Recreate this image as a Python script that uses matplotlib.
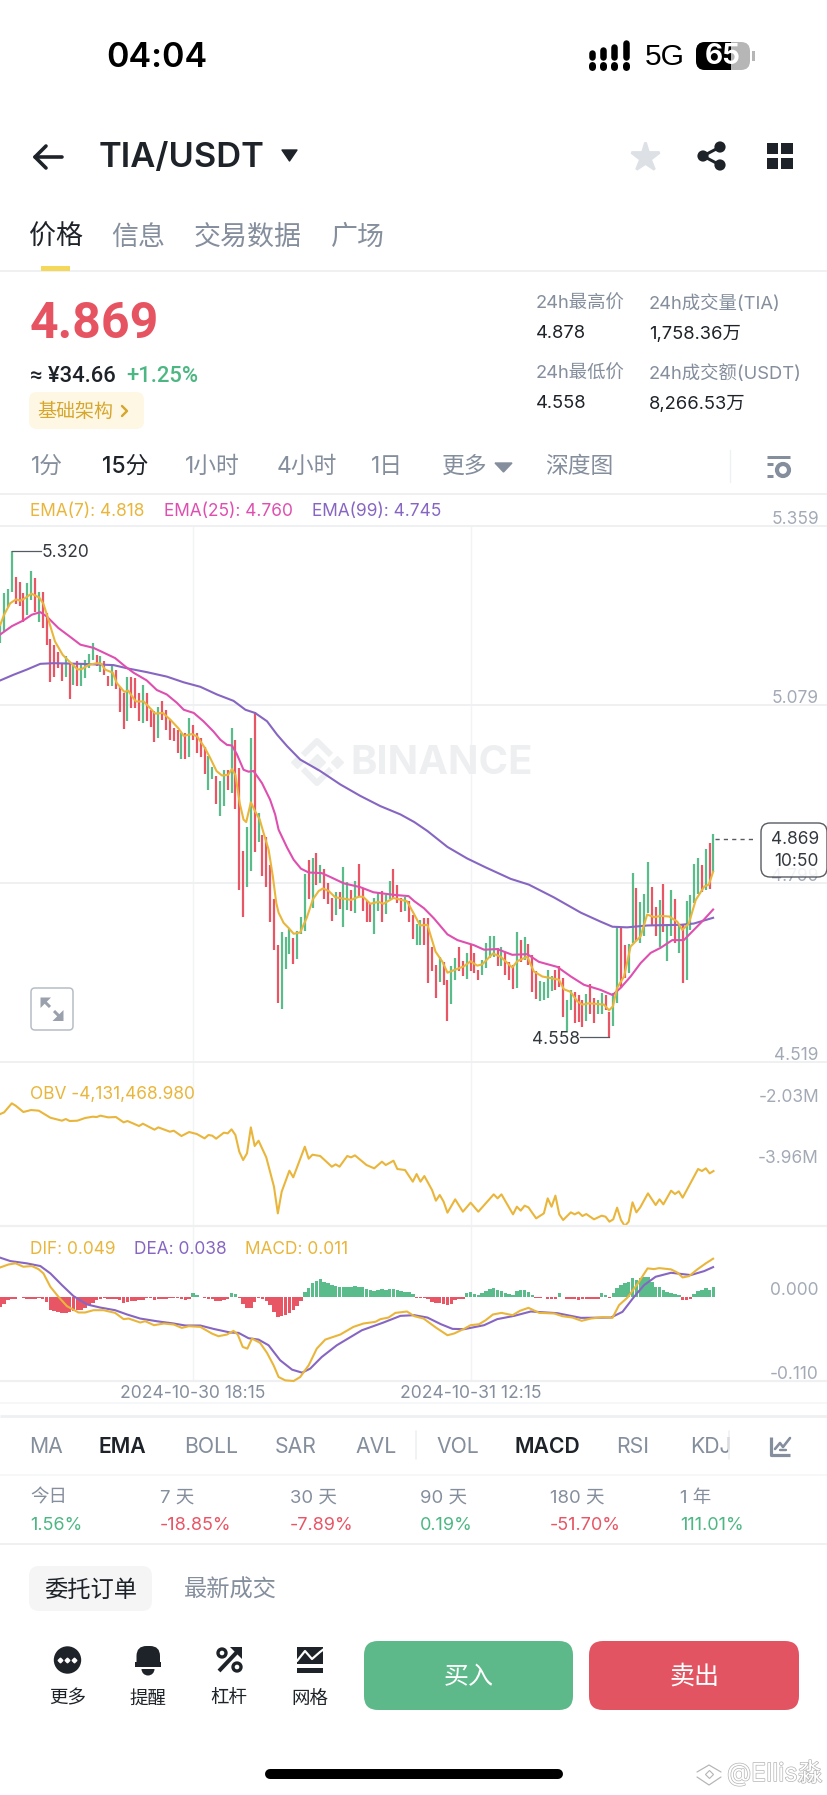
import matplotlib
matplotlib.use('Agg')
import matplotlib.pyplot as plt
import matplotlib.patheffects as pe
from matplotlib.patches import FancyBboxPatch, Rectangle, Polygon, Circle, Wedge

W, H = 828, 1795
GREEN = '#5BBC8B'
RED = '#E85565'
YEL = '#E9B63B'
PINK = '#DE4FB0'
PURP = '#8666C2'
DARK = '#1E2329'
GRAY = '#848E9C'
LGRAY = '#A3AAB6'
SEP = '#EEF0F2'
SANS = ['Inter', 'Noto Sans CJK SC', 'DejaVu Sans']
CJK = ['Noto Sans CJK SC', 'DejaVu Sans']

# candles, one per 15 min
highs = [5.204, 5.254, 5.260, 5.320, 5.279, 5.271, 5.254, 5.269, 5.288, 5.277,
         5.256, 5.255, 5.223, 5.182, 5.172, 5.161, 5.144, 5.155, 5.146, 5.144,
         5.147, 5.142, 5.149, 5.159, 5.176, 5.157, 5.155, 5.148, 5.124, 5.139,
         5.133, 5.107, 5.097, 5.122, 5.122, 5.121, 5.097, 5.110, 5.097, 5.071,
         5.069, 5.075, 5.085, 5.071, 5.055, 5.042, 5.040, 5.035, 5.035, 5.058,
         5.047, 5.035, 5.027, 5.013, 4.998, 4.982, 4.967, 4.959, 4.976, 4.977,
         5.043, 5.023, 4.980, 4.850, 4.887, 5.027, 5.067, 4.910, 4.875, 4.872,
         4.827, 4.774, 4.702, 4.722, 4.715, 4.728, 4.713, 4.725, 4.746, 4.814,
         4.835, 4.839, 4.846, 4.827, 4.821, 4.800, 4.776, 4.786, 4.785, 4.825,
         4.801, 4.789, 4.803, 4.829, 4.790, 4.771, 4.768, 4.776, 4.784, 4.787,
         4.781, 4.802, 4.822, 4.796, 4.776, 4.777, 4.771, 4.750, 4.736, 4.742,
         4.744, 4.744, 4.700, 4.671, 4.684, 4.676, 4.648, 4.670, 4.682, 4.700,
         4.677, 4.690, 4.703, 4.690, 4.663, 4.679, 4.705, 4.717, 4.717, 4.697,
         4.699, 4.692, 4.676, 4.671, 4.722, 4.710, 4.715, 4.704, 4.687, 4.661,
         4.646, 4.645, 4.663, 4.653, 4.663, 4.669, 4.650, 4.616, 4.632, 4.629,
         4.624, 4.616, 4.626, 4.642, 4.619, 4.616, 4.627, 4.624, 4.598, 4.627,
         4.731, 4.731, 4.703, 4.704, 4.815, 4.791, 4.770, 4.783, 4.833, 4.793,
         4.762, 4.773, 4.798, 4.736, 4.788, 4.775, 4.736, 4.735, 4.772, 4.781,
         4.830, 4.838, 4.828, 4.853, 4.862, 4.877]
lows = [5.176, 5.194, 5.232, 5.256, 5.236, 5.233, 5.208, 5.220, 5.243, 5.225,
        5.208, 5.199, 5.173, 5.114, 5.123, 5.136, 5.116, 5.123, 5.088, 5.110,
        5.109, 5.109, 5.121, 5.136, 5.149, 5.140, 5.130, 5.125, 5.108, 5.108,
        5.103, 5.067, 5.041, 5.053, 5.074, 5.073, 5.053, 5.050, 5.054, 5.044,
        5.021, 5.026, 5.055, 5.040, 5.023, 5.022, 5.003, 4.994, 4.994, 4.997,
        5.024, 5.003, 4.997, 4.970, 4.946, 4.963, 4.924, 4.905, 4.920, 4.946,
        4.940, 4.916, 4.788, 4.746, 4.793, 4.818, 4.848, 4.863, 4.810, 4.794,
        4.738, 4.695, 4.611, 4.602, 4.664, 4.689, 4.673, 4.681, 4.720, 4.724,
        4.775, 4.761, 4.796, 4.799, 4.774, 4.767, 4.740, 4.750, 4.758, 4.730,
        4.757, 4.755, 4.753, 4.779, 4.755, 4.738, 4.739, 4.720, 4.756, 4.739,
        4.751, 4.774, 4.776, 4.768, 4.754, 4.755, 4.738, 4.711, 4.703, 4.703,
        4.703, 4.643, 4.661, 4.619, 4.645, 4.640, 4.584, 4.610, 4.647, 4.661,
        4.653, 4.649, 4.661, 4.659, 4.647, 4.655, 4.666, 4.682, 4.684, 4.669,
        4.670, 4.656, 4.648, 4.633, 4.635, 4.676, 4.679, 4.671, 4.629, 4.617,
        4.615, 4.616, 4.620, 4.631, 4.632, 4.637, 4.589, 4.567, 4.601, 4.580,
        4.582, 4.574, 4.584, 4.595, 4.580, 4.595, 4.595, 4.601, 4.558, 4.575,
        4.612, 4.635, 4.650, 4.658, 4.705, 4.708, 4.705, 4.716, 4.752, 4.734,
        4.716, 4.700, 4.723, 4.678, 4.716, 4.705, 4.690, 4.643, 4.648, 4.726,
        4.768, 4.783, 4.786, 4.789, 4.790, 4.817]
sides = ('ggggrrrggr' 'grrrrrrgrg' 'rggggrgrrg' 'rrrgrrrgrr' 'rgrrrrrgrg'
         'rrrrggrggr' 'grrrggrgrr' 'rrrgggrggg' 'rgrgrrrgrg' 'grgrrrrggr'
         'ggrrrgrrgg' 'rrrrgrrggr' 'rgrrrggggr' 'grrrgrgrrr' 'ggggrrrggr'
         'rrgrrggrrg' 'grrggrgggr' 'rgrggrgrgg' 'ggrgrg')

ema7_x = [0, 1, 2.6, 4.1, 5.2, 6.2, 8.1, 10.1, 11.2, 12.1, 14.2, 16.2, 18.2, 20.1, 21.2, 23.2, 25.2, 26.2, 27.2, 29.2,
          30.2, 32.2, 33.2, 34.2, 35.2, 37.2, 38.5, 40.2, 42.2, 44.2, 46.2, 47.6, 49.7, 51.1, 53.1, 54.5, 56.1, 57.5, 59.1, 60.1,
          61, 62.1, 63.1, 63.8, 65, 66.1, 67.3, 68.3, 69.6, 70.7, 71.6, 72.2, 73.5, 74.8, 76.1, 77.8, 79.5, 81.1, 82.6, 83.7,
          85.2, 86.9, 89.1, 91, 93, 94.1, 96, 98.1, 99.4, 102, 105.5, 107.4,
          108.9, 110.8, 112.9, 114.7, 116, 117.7, 120.3, 122, 123.7, 125, 127.8, 129.8, 132.8, 134.1, 136.7, 138.4, 140.6, 144.9,
          146.2, 147.9, 149.7, 151, 152.7, 156.6, 157.9, 158.9, 160, 161.8, 163.5, 166.1, 167.8, 169.6, 171.3, 173.5, 175.6, 176.9,
          178.6, 180.4, 182.6, 183.8, 184.9]
ema7_y = [5.204, 5.220, 5.238, 5.244, 5.242, 5.245, 5.253, 5.247, 5.237, 5.220, 5.178, 5.157, 5.145, 5.134, 5.135, 5.142, 5.144, 5.143, 5.134, 5.129,
          5.113, 5.099, 5.101, 5.092, 5.084, 5.084, 5.076, 5.065, 5.066, 5.055, 5.042, 5.030, 5.033, 5.029, 5.011, 4.995, 4.975, 4.968, 4.969, 4.978,
          4.969, 4.925, 4.899, 4.895, 4.926, 4.912, 4.899, 4.878, 4.852, 4.810, 4.768, 4.753, 4.737, 4.729, 4.720, 4.722, 4.745, 4.774, 4.787, 4.791,
          4.787, 4.777, 4.775, 4.773, 4.778, 4.778, 4.767, 4.770, 4.767, 4.776, 4.771, 4.750,
          4.733, 4.734, 4.692, 4.676, 4.659, 4.663, 4.669, 4.677, 4.670, 4.672, 4.689, 4.684, 4.667, 4.677, 4.684, 4.661, 4.653, 4.648,
          4.633, 4.629, 4.614, 4.609, 4.611, 4.609, 4.600, 4.606, 4.635, 4.653, 4.700, 4.716, 4.750, 4.746, 4.748, 4.747, 4.739, 4.726,
          4.736, 4.773, 4.794, 4.797, 4.817]
ema25_x = [0, 3, 6, 8.2, 10.4, 12.1, 15.1, 18.2, 20.8, 24.2, 27.7, 29.8, 32.4, 34.6, 38, 40.6, 43.2, 45.8, 47.6, 50.2,
           52.7, 55.3, 57.1, 58.8, 60.1, 61.4, 63.1, 64.4, 65.7, 67.9, 70, 71.3, 72.2, 74.4, 76.1, 78, 80, 83.4, 85.6, 89.1,
           93.4, 96.8, 102, 105.9, 107.4, 109.9, 112.5, 116, 118.6, 122.9, 125.5, 128.9, 132.8, 136.7, 139.7, 144.5, 148, 151.4, 155.7, 158.8,
           160.9, 163.5, 166.1, 168.7, 171.3, 174.3, 177.3, 179.9, 182.5, 184.9]
ema25_y = [5.189, 5.202, 5.211, 5.220, 5.224, 5.217, 5.199, 5.185, 5.173, 5.168, 5.158, 5.152, 5.139, 5.129, 5.117, 5.102, 5.095, 5.082, 5.071, 5.066,
           5.053, 5.037, 5.024, 5.016, 5.015, 5.001, 4.977, 4.974, 4.975, 4.956, 4.930, 4.907, 4.883, 4.855, 4.836, 4.822, 4.816, 4.815, 4.809, 4.799,
           4.793, 4.785, 4.781, 4.779, 4.771, 4.760, 4.744, 4.719, 4.710, 4.702, 4.695, 4.696, 4.687, 4.688, 4.676, 4.668, 4.653, 4.640, 4.632, 4.624,
           4.635, 4.653, 4.674, 4.690, 4.698, 4.710, 4.710, 4.726, 4.742, 4.758]
ema99_x = [0, 3.5, 6.9, 10.4, 13.8, 20.8, 29.4, 32.9, 38, 43.2, 47.6, 51.9, 56.2, 60.5, 63.6, 66.1, 69.2, 71.8, 74.4, 77.8,
           83, 88.2, 93.4, 98.6, 103.8, 107.4, 110.8, 116, 121.1, 125.9, 132.4, 137.1, 143.6, 150.6, 155.7, 158.8, 162.6, 167.9, 176.5, 179.9, 184.9]
ema99_y = [5.117, 5.126, 5.134, 5.143, 5.144, 5.143, 5.141, 5.136, 5.130, 5.123, 5.114, 5.107, 5.095, 5.085, 5.071, 5.066, 5.053, 5.032, 5.014, 4.993,
           4.975, 4.954, 4.936, 4.920, 4.907, 4.895, 4.881, 4.856, 4.838, 4.824, 4.806, 4.797, 4.777, 4.753, 4.739, 4.731, 4.730, 4.733, 4.734, 4.736, 4.745]

price_ticks = [5.359, 5.079, 4.799, 4.519]
price_labels = ['5.359', '5.079', '4.799', '4.519']

# OBV in millions
obv_x = [0, 1, 3, 4, 6, 8, 10, 13, 16, 17, 18, 20, 22, 24, 25, 26, 28, 30, 32, 33,
         36, 37, 40, 41, 44, 45, 47, 49, 51, 53, 54, 55, 56, 58, 59, 60, 61, 62, 63, 64,
         65, 66, 67, 69, 71, 72, 73, 75, 76, 79, 80, 81, 83, 86, 87, 88, 90, 91, 92, 95,
         97, 99, 100, 102, 103, 105, 107,
         108, 109, 110, 112, 113, 114, 115, 116, 118, 120, 122, 124, 128, 129, 130, 133, 134, 135, 136, 137, 139,
         141, 142, 143, 144, 145, 146, 148, 149, 150, 151, 152, 154, 156, 157, 158, 159, 160, 161, 162, 163,
         164, 165, 166, 168, 170, 171, 172, 174, 175, 176, 177, 179, 181, 182, 183, 184, 185]
obv_y = [-2.347, -2.294, -2.009, -2.083, -2.283, -2.220, -2.241, -2.463, -2.558, -2.505,
         -2.568, -2.558, -2.473, -2.431, -2.442, -2.399, -2.452, -2.442, -2.610, -2.568,
         -2.726, -2.653, -2.842, -2.769, -2.906, -2.874, -3.043, -2.916, -2.980, -3.117,
         -3.011, -3.032, -3.127, -2.937, -2.958, -2.832, -3.011, -3.539, -3.803, -3.592,
         -2.769, -3.359, -3.191, -3.718, -4.646, -5.491, -4.805, -4.140, -4.351, -3.381,
         -3.760, -3.634, -3.676, -4.014, -3.940, -4.014, -3.676, -3.718, -3.655, -3.961,
         -4.066, -3.855, -3.961, -3.824, -4.087, -4.119, -4.488,
         -4.246, -4.488, -4.309, -4.752, -5.090, -4.910, -5.121, -5.469, -5.047, -5.438, -5.153, -5.438, -4.889, -5.016, -4.889, -5.522, -5.280, -5.406, -5.248, -5.301, -5.649,
         -5.491, -5.016, -5.280, -4.931, -5.522, -5.702, -5.459, -5.522, -5.459, -5.575, -5.512, -5.680, -5.564, -5.596, -5.754, -5.680, -5.311, -5.702, -5.891, -5.754,
         -5.142, -5.459, -5.301, -4.858, -5.227, -5.047, -5.206, -4.773, -4.879, -4.794, -4.995, -4.541, -4.087, -4.151, -4.066, -4.225, -4.151]

dif_x = [0, 2.2, 4, 6, 8.2, 9.9, 11.2, 13, 15.1, 17.3, 20.3, 22, 24.2, 26.8, 29.8, 32, 33.3, 36.3, 37.6, 39.9,
         42.4, 45, 47.1, 48.9, 51.9, 54.9, 56.6, 58.8, 60.5, 61.6, 62.9, 64.1, 65.3, 67.4, 69.2, 70.9, 72.2, 73.9, 76.1, 77.8,
         80, 82.1, 84.3, 88.2, 91.6, 94.2, 97.3, 98.6, 100.7, 102.5, 105.5, 107.4,
         109.8, 113, 116, 117.7, 120.3, 122, 124.2, 125.9, 127.8, 130, 132.9, 134.8, 137, 139.8, 143.7, 145.8, 148.4, 150.8,
         153.2, 156.2, 158.8, 160.5, 162.7, 165.4, 167.9, 169.6, 170.9, 174, 175.7, 177, 178.7, 180.8, 183, 184.9]
dif_y = [.0384, .0423, .0437, .0393, .0402, .0362, .0306, .0131, 0, -.0122, -.0205, -.0205, -.0175, -.0175, -.0210, -.0292, -.0284, -.0336, -.0319, -.0371,
         -.0349, -.0362, -.0406, -.0384, -.0393, -.0480, -.0515, -.0493, -.0445, -.0493, -.0655, -.0677, -.0546, -.0602, -.0733, -.0895, -.1048, -.1091, -.1100, -.1048,
         -.0895, -.0677, -.0559, -.0493, -.0393, -.0349, -.0327, -.0292, -.0271, -.0210, -.0192, -.0253,
         -.0284, -.0402, -.0502, -.0480, -.0419, -.0371, -.0358, -.0306, -.0231, -.0210, -.0240, -.0183, -.0144, -.0210, -.0218, -.0253, -.0271, -.0314,
         -.0284, -.0266, -.0275, -.0109, -.0009, .0175, .0371, .0362, .0375, .0358, .0314, .0253, .0271, .0358, .0437, .0498]
dea_x = [0, 2.6, 6.9, 10.4, 13, 16, 19, 22.5, 25.9, 29.8, 32.9, 36.3, 40.6, 45, 48, 51.9, 55.3, 59.7, 61.8, 64.4,
         67, 69.6, 72.6, 75.7, 78.3, 80.4, 83.4, 87.3, 93.8, 99.4, 103.8, 107.4,
         110.8, 114.3, 117.3, 120.3, 125.5, 128.9, 133.3, 137.6, 144.5, 150.6, 158.4, 161.4, 164.4, 167, 170, 174, 179.1, 182.6, 184.9]
dea_y = [.0511, .0467, .0437, .0402, .0306, .0153, .0009, -.0100, -.0140, -.0175, -.0231, -.0284, -.0319, -.0349, -.0375, -.0375, -.0419, -.0467, -.0471, -.0541,
         -.0559, -.0633, -.0829, -.0952, -.0991, -.0938, -.0786, -.0633, -.0437, -.0336, -.0249, -.0240,
         -.0271, -.0358, -.0419, -.0423, -.0371, -.0292, -.0249, -.0192, -.0214, -.0275, -.0271, -.0196, 0, .0153, .0262, .0314, .0284, .0336, .0388]
macd_hist = [-.0132, -.0088, -.0044, -.0035, -.0026, -.0009, -.0013, -.0026, -.0035, -.0026,
             -.0018, -.0026, -.0066, -.0167, -.0185, -.0198, -.0207, -.0207, -.0198, -.0185,
             -.0176, -.0167, -.0141, -.0110, -.0079, -.0044, -.0026, -.0013, -.0026, -.0035,
             -.0026, -.0044, -.0075, -.0062, -.0053, -.0053, -.0044, -.0044, -.0018, -.0018,
             -.0044, -.0035, -.0035, -.0026, -.0013, -.0013, -.0013, -.0035, -.0044, -.0035,
             .0044, .0022, -.0009, -.0018, -.0026, -.0035, -.0053, -.0057, -.0044, -.0035,
             .0044, .0031, -.0013, -.0088, -.0141, -.0141, -.0066, -.0018, -.0026, -.0053,
             -.0101, -.0198, -.0268, -.0255, -.0233, -.0207, -.0176, -.0123, -.0057, .0057,
             .0110, .0176, .0202, .0229, .0198, .0185, .0154, .0141, .0132, .0128,
             .0128, .0123, .0136, .0132, .0123, .0097, .0088, .0079, .0088, .0101,
             .0088, .0097, .0106, .0088, .0075, .0062, .0057, .0035,
             -.0013, -.0013, -.0022, -.0026, -.0066, -.0075, -.0079, -.0097, -.0110, -.0088, -.0044, -.0035, -.0031,
             .0044, .0066, .0035, .0022, .0053, .0079, .0101, .0119, .0088, .0075, .0053, .0035, .0026, .0079, .0084, .0088, .0062, .0026,
             -.0013, -.0013, -.0009, -.0026, -.0026, -.0026, .0044,
             -.0009, -.0026, -.0031, -.0035, -.0044, -.0026, -.0031, -.0031, -.0031, -.0031,
             .0044, .0022, -.0018, .0044, .0110, .0154, .0176, .0194, .0251, .0220,
             .0242, .0255, .0255, .0198, .0132, .0132, .0088, .0066, .0053, .0035,
             .0018, -.0044, -.0044, -.0031, .0035, .0079, .0088, .0110, .0088, .0132]

date_labels = ['2024-10-30 18:15', '2024-10-31 12:15']
date_pos = [50, 122]

timeframes = ['1分', '15分', '1小时', '4小时', '1日', '更多', '深度图']
indicators = ['MA', 'EMA', 'BOLL', 'SAR', 'AVL', 'VOL', 'MACD', 'RSI', 'KDJ']
perf_names = ['今日', '7 天', '30 天', '90 天', '180 天', '1 年']
perf_values = ['1.56%', '-18.85%', '-7.89%', '0.19%', '-51.70%', '111.01%']

fig = plt.figure(figsize=(W / 100, H / 100), dpi=100, facecolor='white')
ui = fig.add_axes([0, 0, 1, 1])
ui.set_xlim(0, W)
ui.set_ylim(H, 0)
ui.axis('off')


def px_axes(top, bottom, ylim):
    ax = fig.add_axes([0, 1 - bottom / H, 1, (bottom - top) / H])
    ax.set_xlim(-0.062, 214.7)
    ax.set_ylim(*ylim)
    ax.patch.set_alpha(0)
    ax.axis('off')
    return ax


def t(x, y, s, px, color=DARK, ha='left', weight='normal', fam=SANS, axis=None, **kw):
    # va=center sits a bit high against the screenshot
    return (axis or ui).text(x, y + 2, s, fontsize=px * 0.72, color=color, ha=ha, va='center',
                             fontweight=weight, family=fam, **kw)


def axis_label(ax, v, lab):
    ax.annotate(lab, xy=(819 / W, v), xycoords=ax.get_yaxis_transform(), xytext=(0, -1.5), textcoords='offset points',
                ha='right', va='bottom', fontsize=17.3 * 0.72, color=LGRAY, family=SANS)


def rbox(x0, y0, x1, y1, r, fc, ec='none', lw=0, axis=None, z=1, alpha=None):
    p = FancyBboxPatch((x0, y0), x1 - x0, y1 - y0, boxstyle='round,pad=0,rounding_size=%s' % r,
                       fc=fc, ec=ec, lw=lw, zorder=z, alpha=alpha)
    (axis or ui).add_patch(p)
    return p


def hline(y, color=SEP, lw=1.4):
    ui.plot([0, W], [y, y], color=color, lw=lw, zorder=1, solid_capstyle='butt')


def line(xs, ys, color=DARK, px=3, z=3, axis=None, cap='round'):
    (axis or ui).plot(xs, ys, color=color, lw=px * 0.72, zorder=z, solid_capstyle=cap, solid_joinstyle='round')


# status bar
t(106, 56, '04:04', 34, 'black', weight='semibold')
for x, top in zip([592, 603, 614, 626], [53, 50, 47, 43]):
    line([x, x], [top, 57], 'black', 6.5)
    line([x, x], [65, 66.5], 'black', 7)
t(645, 55, '5G', 30, 'black', fam=['Liberation Sans'])
rbox(696, 42, 750, 70, 9, '#B6B6B6')
black = rbox(696, 42, 750, 70, 9, 'black', z=2)
black.set_clip_path(Rectangle((696, 42), 35, 28, transform=ui.transData))
ui.add_patch(Rectangle((752, 51), 3, 10, fc='#B6B6B6', ec='none'))
t(722.5, 55, '65', 28, 'white', ha='center', weight='bold', zorder=4)

# header
line([35, 62], [157, 157], DARK, 3.6)
line([46, 35, 46], [146, 157, 168], DARK, 3.6)
t(98.5, 156, 'TIA/USDT', 34.5, DARK, weight='semibold')
ui.add_patch(Polygon([(282, 150), (297, 150), (289.5, 161)], fc=DARK, ec=DARK, lw=1, joinstyle='round'))
ui.plot([645], [157], marker='*', ms=21, color='#DDE1E6', mec='#DDE1E6', mew=2, mfc='#DDE1E6')
for (nx, ny) in [(720, 147), (720, 165)]:
    line([703, nx], [156, ny], DARK, 3)
    ui.add_patch(Circle((nx, ny), 5.6, fc=DARK, zorder=4))
ui.add_patch(Circle((703, 156), 5.6, fc=DARK, zorder=4))
for gx in [767, 781.5]:
    for gy in [143, 158]:
        ui.add_patch(Rectangle((gx, gy), 11.3, 11, fc=DARK, ec='none'))

tabs = [('价格', 29, DARK, 'medium'), ('信息', 111.5, GRAY, 'normal'), ('交易数据', 194, GRAY, 'normal'), ('广场', 331, GRAY, 'normal')]
for name, x, c, w in tabs:
    t(x, 235, name, 27, c, weight=w, fam=CJK)
ui.add_patch(Rectangle((41, 266), 29, 5, fc='#F5D85A', ec='none', zorder=2))
hline(271)

# price block
t(30, 323, '4.869', 50, '#E65361', weight='bold', fam=['Roboto'])
t(30, 374, '≈ ¥34.66', 22, DARK, fam=['Roboto', 'DejaVu Sans'], weight='medium')
t(126, 374, '+1.25%', 22, '#4DB784', fam=['Roboto'], weight='medium')
rbox(29, 392, 144, 429, 8, '#FDF7E3')
t(37, 409, '基础架构', 19, '#D6A62D', fam=CJK)
line([122, 127, 122], [406, 411, 416], '#D6A62D', 2.4)
stat_gray = [(536, 302, '24h最高价'), (649, 302, '24h成交量(TIA)'), (536, 372, '24h最低价'), (649, 372, '24h成交额(USDT)')]
for x, y, s in stat_gray:
    t(x, y, s, 18.4, GRAY)
stat_dark = [(536, 332, '4.878'), (649, 332, '1,758.36万'), (536, 402, '4.558'), (649, 402, '8,266.53万')]
for x, y, s in stat_dark:
    t(x, y, s, 18.4, DARK)

tf_x = [31, 102, 185, 277, 371, 442, 545]
for x, s in zip(tf_x, timeframes):
    t(x, 465, s, 22.8, DARK if s == '15分' else GRAY, weight='medium' if s == '15分' else 'normal')
ui.add_patch(Polygon([(495, 463), (512, 463), (503.5, 472)], fc=GRAY, ec=GRAY, lw=1))
line([730, 730], [450, 482], SEP, 1.4)
line([767, 790], [456.5, 456.5], GRAY, 3, cap='butt')
line([767, 773], [464, 464], GRAY, 3, cap='butt')
line([767, 773], [476, 476], GRAY, 3, cap='butt')
ui.add_patch(Circle((783, 470), 6, fc='white', ec=GRAY, lw=3))
hline(494)

ema_legend = [(30, 'EMA(7): 4.818', YEL), (164, 'EMA(25): 4.760', PINK), (312, 'EMA(99): 4.745', PURP)]
for x, s, c in ema_legend:
    t(x, 509.5, s, 17.3, c)

# watermark behind the candles
WM = '#EEEFF1'
line([303, 317, 331], [755, 741, 755], WM, 6, z=1, cap='butt')
line([303, 317, 331], [769, 783, 769], WM, 6, z=1, cap='butt')
ui.plot([317], [762], marker='D', ms=8, color=WM, zorder=1)
ui.plot([297, 337], [762, 762], ls='none', marker='D', ms=6, color=WM, zorder=1)
t(350, 762, 'BINANCE', 40, WM, weight='bold', zorder=1)

# price panel
ax = px_axes(526, 1062, (4.519, 5.359))
for v, lab in zip(price_ticks, price_labels):
    ax.axhline(v, color=SEP, lw=1.4, zorder=1, clip_on=False)
    axis_label(ax, v, lab)
idx = list(range(len(highs)))
colors = [GREEN if s == 'g' else RED for s in sides]
ax.vlines(idx, lows, highs, colors=colors, lw=1.6, zorder=3)
ax.plot(ema99_x, ema99_y, color=PURP, lw=1.5, zorder=4, solid_joinstyle='round')
ax.plot(ema25_x, ema25_y, color=PINK, lw=1.5, zorder=5, solid_joinstyle='round')
ax.plot(ema7_x, ema7_y, color=YEL, lw=1.5, zorder=6, solid_joinstyle='round')
ax.plot([3, 10.5], [5.320, 5.320], color='#555B63', lw=0.9, zorder=6)
ax.annotate('5.320', xy=(10.6, 5.320), xytext=(0, -1.5), textcoords='offset points', fontsize=17.3 * 0.72,
            color='#33383F', va='center', family=SANS)
ax.plot([158, 150.5], [4.558, 4.558], color='#555B63', lw=0.9, zorder=6)
ax.annotate('4.558', xy=(150.3, 4.558), xytext=(0, -1.5), textcoords='offset points', fontsize=17.3 * 0.72,
            color='#33383F', va='center', ha='right', family=SANS)
ax.plot([185.5, 196], [4.869, 4.869], color='#555B63', lw=1.0, ls=(0, (3, 3)), zorder=6)

# OBV panel
ax2 = px_axes(1062, 1226, (-5.891, -0.70))
ax2.plot(obv_x, obv_y, color=YEL, lw=1.5, clip_on=False, solid_joinstyle='round')
ax2.axhline(-5.891, color=SEP, lw=1.6, clip_on=False)
for v, lab in zip([-2.03, -3.96], ['-2.03M', '-3.96M']):
    axis_label(ax2, v, lab)
t(30, 1092.5, 'OBV -4,131,468.980', 17.3, YEL)

# MACD panel
ax3 = px_axes(1226, 1381, (-0.110, 0.0925))
ax3.bar(idx, macd_hist, width=0.9, color=[GREEN if v > 0 else RED for v in macd_hist], zorder=2)
ax3.plot(dea_x, dea_y, color=PURP, lw=1.5, zorder=3, solid_joinstyle='round', clip_on=False)
ax3.plot(dif_x, dif_y, color=YEL, lw=1.5, zorder=4, solid_joinstyle='round', clip_on=False)
ax3.axhline(-0.110, color=SEP, lw=1.6, clip_on=False, zorder=1)
for v, lab in zip([0.0, -0.110], ['0.000', '-0.110']):
    axis_label(ax3, v, lab)
macd_legend = [(30, 'DIF: 0.049', YEL), (134, 'DEA: 0.038', PURP), (245, 'MACD: 0.011', YEL)]
for x, s, c in macd_legend:
    t(x, 1247, s, 17.3, c)

# vertical grid through all panels, labels below
for pos, lab in zip(date_pos, date_labels):
    x_px = 0.24 + 3.855 * pos
    line([x_px, x_px], [526, 1381], '#F2F3F5', 1.4, z=0, cap='butt')
    t(x_px, 1391.5, lab, 17.5, GRAY, ha='center')

hline(1403, '#F5F6F7', 1.2)
hline(1416, '#EEF0F2', 2)

ind_x = [29, 99, 184, 275, 355, 436, 515, 616, 690]
for x, s in zip(ind_x, indicators):
    bold = s in ('EMA', 'MACD')
    t(x, 1445, s, 21.2, DARK if bold else GRAY, weight='semibold' if bold else 'normal')
ui.add_patch(Rectangle((730, 1430), 18, 32, fc='white', ec='none', zorder=5))
line([416, 416], [1431, 1459], SEP, 1.6)
line([729, 729], [1431, 1459], SEP, 1.6, z=6)
line([771, 771, 790], [1437, 1455, 1455], GRAY, 3.2, cap='butt')
line([775, 780, 783, 790], [1449, 1443, 1447, 1438], GRAY, 2.6)
line([780, 786], [1450, 1450], GRAY, 2.4)
hline(1475, '#F5F6F7', 1.2)

perf_x = [30, 160, 290, 420, 550, 680]
for x, n, v in zip(perf_x, perf_names, perf_values):
    t(x, 1496, n, 18.5, GRAY)
    t(x, 1523, v, 18, RED if v.startswith('-') else '#4DB784')
hline(1544, '#EEF0F2', 1.4)

rbox(29, 1566, 152, 1611, 10, '#F5F5F5')
t(44.5, 1588, '委托订单', 23.3, DARK, weight='medium', fam=CJK)
t(183.5, 1588, '最新成交', 23.3, GRAY, fam=CJK)

# bottom icons
ui.add_patch(Circle((67.5, 1660), 13.7, fc=DARK))
ui.plot([60.5, 67.5, 74.5], [1660, 1660, 1660], ls='none', marker='D', ms=2.4, color='white', zorder=4)
rbox(136.5, 1646, 160, 1672, 10, DARK)
ui.add_patch(Rectangle((135.5, 1662), 26, 5, fc=DARK, ec='none', zorder=2))
ui.add_patch(Rectangle((130, 1667), 36, 6, fc='white', ec='none', zorder=2))
ui.add_patch(Wedge((148, 1669), 6.5, 0, 180, fc=DARK, ec='none', zorder=3))
ui.add_patch(Circle((222, 1653), 4, fc='white', ec=DARK, lw=2.4))
ui.add_patch(Circle((237, 1667), 4, fc='white', ec=DARK, lw=2.4))
line([219, 238], [1671, 1651], DARK, 4, cap='butt')
ui.add_patch(Polygon([(242, 1647), (230, 1647), (242, 1659)], fc=DARK, ec='none'))
ui.add_patch(Rectangle((297, 1647), 26, 17, fc=DARK, ec='none'))
ui.add_patch(Rectangle((297, 1668), 26, 5, fc=DARK, ec='none'))
line([297, 305, 312, 320, 324], [1661, 1651, 1659, 1652, 1649], 'white', 2.2, z=4)
for x, s in zip([67.5, 148, 229, 310], ['更多', '提醒', '杠杆', '网格']):
    t(x, 1696.5, s, 18.5, DARK, ha='center', fam=CJK)

rbox(364, 1641, 573, 1710, 14, '#5DB989')
rbox(589, 1641, 799, 1710, 14, '#E25462')
t(469, 1675, '买入', 25, 'white', ha='center', fam=CJK, zorder=4)
t(694, 1675, '卖出', 25, 'white', ha='center', fam=CJK, zorder=4)
line([270, 558], [1774, 1774], 'black', 10)

# site watermark, bottom right
WG = '#B4B4B4'
line([697, 709, 721], [1772, 1765, 1772], WG, 1.2)
line([697, 709, 721], [1777, 1785, 1777], WG, 1.2)
ui.plot([709], [1774], marker='D', ms=4, mfc='white', mec=WG, mew=0.8)
t(727, 1771, '@Ellis淼', 25, 'white', zorder=5,
  path_effects=[pe.withStroke(linewidth=1.0, foreground=WG)])

# overlay for things that sit on the panels
top = fig.add_axes([0, 0, 1, 1])
top.set_xlim(0, W)
top.set_ylim(H, 0)
top.patch.set_alpha(0)
top.axis('off')
rbox(761, 823, 827, 877, 9, 'white', ec='#3A3F47', lw=1.0, axis=top, z=5, alpha=0.86)
t(819, 838, '4.869', 17.3, '#33383F', ha='right', axis=top, zorder=6)
t(819, 860, '10:50', 17.3, '#33383F', ha='right', axis=top, zorder=6)
rbox(31, 988, 73, 1030, 4, 'white', ec='#B7BDC6', lw=1.1, axis=top, z=5)
top.add_patch(Polygon([(40.5, 997.5), (51, 997.5), (40.5, 1008)], fc='#9AA1AC', ec='none', zorder=6))
top.add_patch(Polygon([(63.5, 1021), (52.5, 1021), (63.5, 1010)], fc='#9AA1AC', ec='none', zorder=6))
line([45, 50], [1002, 1007], '#9AA1AC', 3, z=6, axis=top, cap='butt')
line([54, 59], [1011, 1016], '#9AA1AC', 3, z=6, axis=top, cap='butt')

fig.savefig('out.png', dpi=100, facecolor='white')
